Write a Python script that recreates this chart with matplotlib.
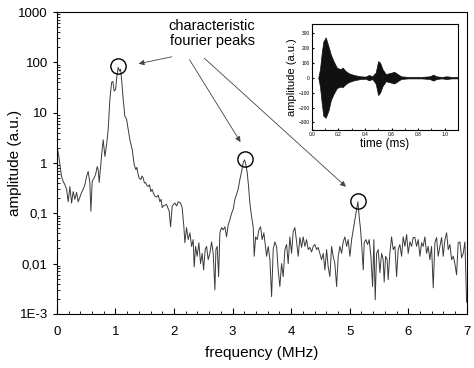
import numpy as np
import matplotlib.pyplot as plt
from matplotlib.ticker import LogLocator, NullFormatter, MultipleLocator

plt.rcParams['font.family'] = ['Liberation Sans', 'DejaVu Sans']

# Fourier spectrum (frequency in MHz, amplitude in a.u.)
freq = [0.005, 0.012, 0.034, 0.051, 0.080, 0.108, 0.137, 0.166, 0.193, 0.222,
        0.251, 0.278, 0.307, 0.336, 0.364, 0.393, 0.422, 0.449, 0.478, 0.507,
        0.534, 0.563, 0.580, 0.603, 0.637, 0.661, 0.688, 0.705, 0.722, 0.746,
        0.773, 0.791, 0.820, 0.849, 0.876, 0.905, 0.934, 0.956, 0.978, 1.002,
        1.024, 1.047, 1.071, 1.088, 1.105, 1.132, 1.161, 1.190, 1.217, 1.246,
        1.286, 1.320, 1.349, 1.365, 1.388, 1.405, 1.434, 1.452, 1.473, 1.494,
        1.514, 1.537, 1.559, 1.582, 1.605, 1.625, 1.644, 1.672, 1.702, 1.730,
        1.759, 1.780, 1.798, 1.815, 1.873, 1.917, 1.941, 1.969, 2.015, 2.044,
        2.071, 2.112, 2.139, 2.168, 2.185, 2.214, 2.242, 2.271, 2.300, 2.327,
        2.344, 2.368, 2.395, 2.424, 2.453, 2.481, 2.505, 2.532, 2.556, 2.583,
        2.612, 2.641, 2.669, 2.698, 2.715, 2.737, 2.761, 2.783, 2.812, 2.839,
        2.868, 2.897, 2.925, 2.954, 2.983, 3.010, 3.039, 3.068, 3.095, 3.124,
        3.154, 3.181, 3.205, 3.227, 3.249, 3.273, 3.295, 3.324, 3.352, 3.369,
        3.393, 3.420, 3.449, 3.478, 3.505, 3.534, 3.580, 3.608, 3.637, 3.666,
        3.693, 3.722, 3.751, 3.778, 3.807, 3.836, 3.864, 3.893, 3.922, 3.949,
        3.978, 4.007, 4.034, 4.063, 4.093, 4.120, 4.149, 4.178, 4.205, 4.234,
        4.263, 4.291, 4.320, 4.349, 4.376, 4.405, 4.434, 4.461, 4.490, 4.519,
        4.547, 4.576, 4.605, 4.632, 4.661, 4.690, 4.717, 4.746, 4.776, 4.803,
        4.832, 4.861, 4.888, 4.917, 4.946, 4.973, 5.003, 5.032, 5.059, 5.088,
        5.117, 5.139, 5.161, 5.185, 5.213, 5.230, 5.247, 5.276, 5.305, 5.332,
        5.361, 5.390, 5.412, 5.435, 5.458, 5.486, 5.515, 5.544, 5.571, 5.588,
        5.612, 5.639, 5.656, 5.685, 5.714, 5.742, 5.771, 5.800, 5.827, 5.856,
        5.885, 5.913, 5.942, 5.971, 5.998, 6.027, 6.056, 6.083, 6.112, 6.141,
        6.169, 6.198, 6.227, 6.254, 6.283, 6.312, 6.339, 6.368, 6.397, 6.425,
        6.454, 6.483, 6.510, 6.539, 6.568, 6.596, 6.625, 6.654, 6.681, 6.710,
        6.739, 6.767, 6.795, 6.824, 6.852, 6.881, 6.910, 6.937, 6.966, 6.995]
amp = [2.1, 1.86, 1.35, 0.93, 0.54, 0.43, 0.37, 0.30, 0.17, 0.34,
       0.16, 0.27, 0.19, 0.26, 0.17, 0.21, 0.26, 0.30, 0.37, 0.54,
       0.68, 0.41, 0.11, 0.43, 0.51, 0.59, 0.85, 0.74, 0.41, 0.85,
       1.86, 2.9, 1.35, 2.3, 4.7, 18.5, 40, 42, 27, 29,
       53, 80, 67, 73, 46, 18.5, 8.5, 7.4, 4.7, 2.9,
       1.86, 0.93, 0.74, 0.82, 0.59, 0.50, 0.47, 0.55, 0.51, 0.40,
       0.41, 0.36, 0.34, 0.37, 0.27, 0.30, 0.26, 0.22, 0.21, 0.23,
       0.17, 0.19, 0.13, 0.14, 0.15, 0.11, 0.054, 0.14, 0.16, 0.14,
       0.17, 0.16, 0.13, 0.054, 0.026, 0.052, 0.030, 0.041, 0.022, 0.030,
       0.0086, 0.022, 0.014, 0.026, 0.010, 0.016, 0.0075, 0.019, 0.022, 0.012,
       0.016, 0.027, 0.016, 0.0030, 0.019, 0.022, 0.0055, 0.041, 0.052, 0.047,
       0.054, 0.034, 0.059, 0.075, 0.10, 0.12, 0.19, 0.24, 0.30, 0.47,
       0.68, 1.02, 1.16, 0.93, 0.65, 0.34, 0.16, 0.086, 0.054, 0.014,
       0.034, 0.030, 0.047, 0.054, 0.030, 0.041, 0.014, 0.022, 0.012, 0.0022,
       0.019, 0.027, 0.022, 0.0075, 0.0035, 0.010, 0.0055, 0.019, 0.024, 0.010,
       0.034, 0.016, 0.043, 0.052, 0.027, 0.014, 0.033, 0.021, 0.034, 0.022,
       0.030, 0.019, 0.021, 0.017, 0.022, 0.024, 0.019, 0.021, 0.016, 0.012,
       0.016, 0.0075, 0.019, 0.0086, 0.0055, 0.022, 0.014, 0.010, 0.0035, 0.014,
       0.022, 0.016, 0.027, 0.034, 0.022, 0.030, 0.014, 0.030, 0.047, 0.075,
       0.12, 0.17, 0.086, 0.047, 0.016, 0.0075, 0.026, 0.030, 0.024, 0.030,
       0.014, 0.0035, 0.030, 0.0019, 0.016, 0.019, 0.0066, 0.016, 0.012, 0.0043,
       0.014, 0.012, 0.0048, 0.016, 0.034, 0.019, 0.022, 0.0055, 0.019, 0.024,
       0.014, 0.034, 0.022, 0.038, 0.016, 0.027, 0.022, 0.033, 0.033, 0.022,
       0.030, 0.014, 0.026, 0.022, 0.034, 0.016, 0.022, 0.012, 0.022, 0.0033,
       0.026, 0.033, 0.014, 0.022, 0.033, 0.014, 0.030, 0.041, 0.019, 0.024,
       0.012, 0.014, 0.010, 0.0060, 0.026, 0.027, 0.013, 0.016, 0.027, 0.0017]

ytick_vals = [1e-3, 1e-2, 1e-1, 1, 10, 100, 1000]
ytick_labels = ['1E-3', '0,01', '0,1', '1', '10', '100', '1000']
peak_windows = [(0.9, 1.2), (3.0, 3.4), (5.0, 5.3)]

# Time signal shown in the inset (envelope, time in ms)
t_env = [0.048, 0.061, 0.074, 0.086, 0.104, 0.125, 0.143, 0.163, 0.188, 0.214,
         0.232, 0.252, 0.277, 0.316, 0.366, 0.405, 0.430, 0.455, 0.481, 0.499,
         0.514, 0.532, 0.557, 0.583, 0.621, 0.646, 0.672, 0.723, 0.824, 0.888,
         0.914, 0.939, 0.977, 1.015, 1.053, 1.109]
env_upper = [0, 57, 165, 241, 270, 209, 154, 111, 67, 57,
             67, 46, 30, 18, 9, 7, 18, 9, 35, 111,
             100, 57, 24, 30, 39, 24, 9, 5, 5, 9,
             20, 9, 5, 9, 5, 5]
env_lower = [0, -60, -170, -255, -269, -220, -150, -110, -70, -60,
             -63, -45, -30, -18, -9, -7, -18, -9, -40, -117,
             -100, -57, -24, -30, -39, -24, -9, -5, -5, -9,
             -20, -9, -5, -9, -5, -5]

fig = plt.figure(figsize=(4.74, 3.68), dpi=100)
ax = fig.add_axes([0.120, 0.147, 0.865, 0.820])

ax.semilogy(freq, amp, color='#3a3a3a', lw=0.7)
ax.set_xlim(0, 7)
ax.set_ylim(1e-3, 1000)

ax.set_xticks(range(8))
ax.xaxis.set_minor_locator(MultipleLocator(0.2))
ax.set_yticks(ytick_vals)
ax.set_yticklabels(ytick_labels)
ax.yaxis.set_minor_locator(LogLocator(base=10, subs=range(2, 10)))
ax.yaxis.set_minor_formatter(NullFormatter())
ax.tick_params(axis='x', which='major', direction='in', length=4, labelsize=9.5, pad=9)
ax.tick_params(axis='x', which='minor', direction='in', length=2)
ax.tick_params(axis='y', which='major', direction='out', length=3, labelsize=9.5)
ax.tick_params(axis='y', which='minor', direction='in', length=2)

ax.set_xlabel('frequency (MHz)', fontsize=11)
ax.set_ylabel('amplitude (a.u.)', fontsize=11)
ax.xaxis.set_label_coords(0.5, -0.105)
ax.yaxis.set_label_coords(-0.085, 0.5)

# circles round the peaks
fr = np.array(freq)
am = np.array(amp)
for lo, hi in peak_windows:
    sel = np.where((fr >= lo) & (fr <= hi))[0]
    i = sel[np.argmax(am[sel])]
    ax.plot(fr[i], am[i] * 1.05, 'o', ms=11, mfc='none', mec='k', mew=1.0)

ax.text(2.65, 380, 'characteristic\nfourier peaks', ha='center', va='center',
        fontsize=10.5, linespacing=1.1)
arrow = dict(arrowstyle='-|>', color='#444444', lw=0.6, mutation_scale=8)
ax.annotate('', xy=(1.35, 92), xytext=(2.01, 133), arrowprops=arrow)
ax.annotate('', xy=(3.16, 2.34), xytext=(2.24, 126), arrowprops=arrow)
ax.annotate('', xy=(4.97, 0.31), xytext=(2.48, 133), arrowprops=arrow)

# inset with the time signal
ins = fig.add_axes([0.658, 0.647, 0.308, 0.288])
ins.fill_between(t_env, env_lower, env_upper, color='#111111', lw=0.5)
ins.set_xlim(0, 1.1)
ins.set_ylim(-350, 360)
ins.set_xticks([0.0, 0.2, 0.4, 0.6, 0.8, 1.0])
ins.set_xticklabels(['0.0', '0.2', '0.4', '0.6', '0.8', '1.0'])
ins.set_yticks([-300, -200, -100, 0, 100, 200, 300])
ins.xaxis.set_minor_locator(MultipleLocator(0.1))
ins.tick_params(which='both', direction='in', labelsize=3.5, length=1.5, pad=1.5)
ins.set_xlabel('time (ms)', fontsize=8.5, labelpad=1)
ins.set_ylabel('amplitude (a.u.)', fontsize=8, labelpad=1)

plt.savefig('out.png', dpi=100)
